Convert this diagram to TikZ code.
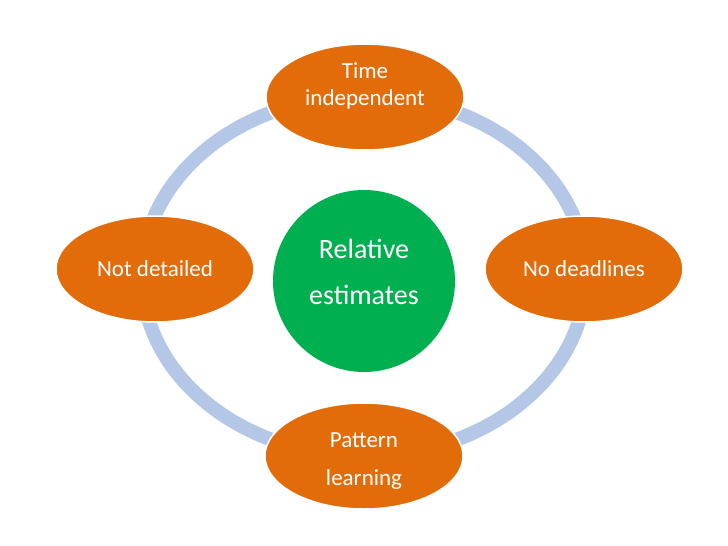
\documentclass[tikz,border=0pt]{standalone}
\usepackage{fontspec}
\setmainfont{Carlito}
\usetikzlibrary{shapes.geometric}
\definecolor{orng}{RGB}{227,108,10}
\definecolor{grn}{RGB}{0,176,80}
\definecolor{ringc}{RGB}{180,199,231}
\begin{document}
\begin{tikzpicture}[x=1pt,y=-1pt,
  el/.style={ellipse,fill=orng,draw=white,line width=1.5pt,minimum width=198pt,minimum height=106pt,inner sep=0pt},
  tx/.style={text=white,font=\fontsize{23}{27}\selectfont,align=center,inner sep=0pt}]
\useasboundingbox (0,0) rectangle (728,546);
\draw[ringc,line width=14pt] (364,276) ellipse [x radius=222, y radius=180];
\node[el] (t) at (365,97) {};
\node[el] (l) at (155,269) {};
\node[el] (r) at (584,269) {};
\node[el] (b) at (364,456) {};
\node[circle,fill=grn,minimum size=182pt] (c) at (364,281) {};
\node[tx] (tt) at ([yshift=11pt]t.center) {Time\\[0pt]independent};
\node[tx] (lt) at (l.center) {Not detailed};
\node[tx] (rt) at (r.center) {No deadlines};
\node[tx] (bt) at ([yshift=-5pt]b.center) {Pattern\\[11pt]learning};
\node[tx,font=\fontsize{28}{34}\selectfont] (ct) at ([yshift=9pt]c.center) {Relative\\[12pt]estimates};
\end{tikzpicture}
\end{document}
